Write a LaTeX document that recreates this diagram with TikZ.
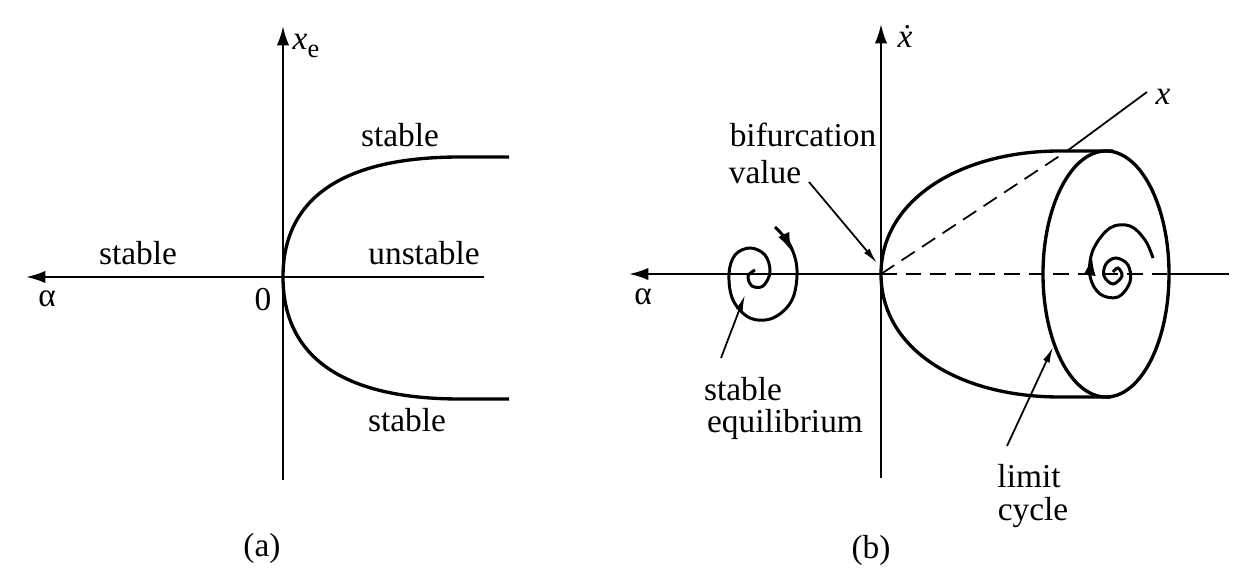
\documentclass[tikz,border=0pt]{standalone}
\usepackage{fontspec}
\setmainfont{Liberation Serif}
\usetikzlibrary{arrows.meta}
\begin{document}
\begin{tikzpicture}[x=0.02cm,y=-0.02cm,
  ax/.style={line width=1.3pt},
  crv/.style={line width=1.9pt},
  tip/.style={-{Latex[length=11pt,width=7pt]}},
  lbl/.style={font=\fontsize{19}{21}\selectfont,inner sep=0pt},
  ptr/.style={line width=1pt,-{Latex[length=9pt,width=4pt]}}]
\useasboundingbox (0,0) rectangle (1254,577);
% ---- (a)
\coordinate (oa) at (283,277);
\coordinate (atop) at (283,26);
\coordinate (abot) at (283,480);
\coordinate (aleft) at (26,277);
\coordinate (aright) at (484,277);
\draw[ax,tip] (abot) -- (atop);
\draw[ax] (aright) -- (oa);
\draw[ax,tip] (oa) -- (aleft);
\draw[crv] (oa) .. controls (283,200) and (340,157) .. (460,157) -- (509,157);
\draw[crv] (oa) .. controls (283,355) and (340,399) .. (460,399) -- (509,399);
\node[lbl] (xe) at (306,46) {\itshape x\raisebox{-5pt}{\upshape\fontsize{15}{17}\selectfont e}};
\node[lbl] (sa1) at (400,135) {stable};
\node[lbl] (sa2) at (138,253) {stable};
\node[lbl] (ua) at (424,253) {unstable};
\node[lbl] (sa3) at (407,420) {stable};
\node[lbl] (alpa) at (47,299) {α};
\node[lbl] (zero) at (263,300) {0};
\node[lbl] (capa) at (262,548) {(a)};
% ---- (b)
\coordinate (ob) at (881,274);
\coordinate (btop) at (881,24);
\coordinate (bbot) at (881,478);
\coordinate (bleft) at (629,274);
\coordinate (bright) at (1229,274);
\coordinate (elr) at (1169,274);
\coordinate (dg1) at (1067,151);
\coordinate (dg2) at (1147,92);
\draw[ax,tip] (bbot) -- (btop);
\draw[ax,tip] (ob) -- (bleft);
\draw[line width=1pt,dash pattern=on 9pt off 5pt] (ob) -- (elr);
\draw[line width=1pt] (elr) -- (bright);
\draw[line width=1pt,dash pattern=on 9pt off 5pt] (ob) -- (dg1);
\draw[line width=1pt] (dg1) -- (dg2);
\draw[crv] (ob) .. controls (881,200) and (960,151) .. (1060,151) -- (1113,151);
\draw[crv] (ob) .. controls (881,350) and (960,397) .. (1060,397) -- (1111,397);
\draw[crv] (1106,274) ellipse [x radius=63,y radius=123];
% left spiral
\draw[crv,line width=1.7pt] plot[smooth,tension=0.6] coordinates {(775,227) (790,245) (797,270) (792,300) (773,318) (750,318) (733,300) (729,274) (735,255) (750,248) (765,255) (770,272) (763,286) (752,286) (748,276) (755,270)};
\coordinate (la1) at (785,237);
\coordinate (la2) at (792,252);
\draw[line width=1.7pt,tip] (la1) -- (la2);
% right spiral
\draw[crv,line width=1.7pt] plot[smooth,tension=0.6] coordinates {(1113,272) (1118,268) (1122,276) (1113,284) (1104,276) (1106,264) (1116,258) (1128,265) (1130,282) (1118,297) (1100,294) (1090,276) (1093,250) (1110,228) (1130,226) (1145,240) (1153,258)};
\coordinate (ra1) at (1090,272);
\coordinate (ra2) at (1092,256);
\draw[line width=1.7pt,tip] (ra1) -- (ra2);
\node[lbl] (xd) at (905,36) {\itshape x\char"0307};
\node[lbl] (xl) at (1163,97) {\itshape x};
\node[lbl] (bif1) at (803,135) {bifurcation};
\node[lbl] (bif2) at (765,172) {value};
\node[lbl] (se1) at (743,389) {stable};
\node[lbl] (se2) at (785,424) {equilibrium};
\node[lbl] (lc1) at (1029,476) {limit};
\node[lbl] (lc2) at (1033,513) {cycle};
\node[lbl] (alpb) at (643,297) {α};
\node[lbl] (capb) at (871,550) {(b)};
\coordinate (p1) at (809,182);
\coordinate (p2) at (721,358);
\coordinate (p3) at (1007,446);
\draw[ptr] (p1) -- (877,263);
\draw[ptr] (p2) -- (745,295);
\draw[ptr] (p3) -- (1053,347);
\end{tikzpicture}
\end{document}
